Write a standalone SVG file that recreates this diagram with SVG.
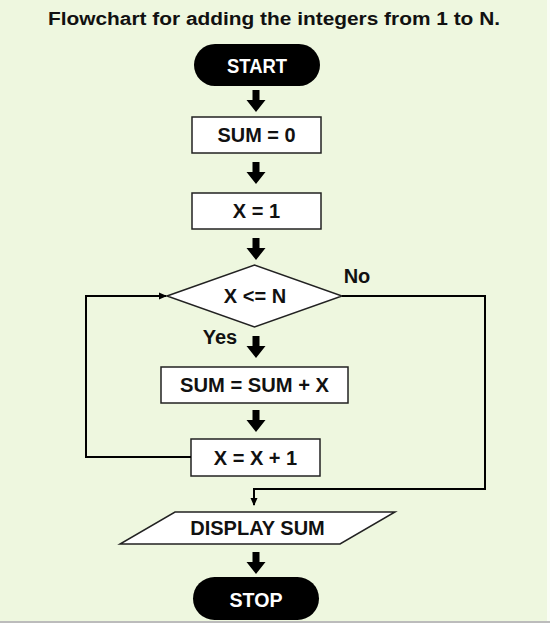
<svg xmlns="http://www.w3.org/2000/svg" xmlns:xlink="http://www.w3.org/1999/xlink" width="550" height="623" viewBox="0 0 550 623">
<style>
text{font-family:"Liberation Sans",Arial,sans-serif;font-weight:bold;text-anchor:middle}
.lbl{font-size:20px;fill:#111}
.term{fill:#000}
.termtxt{font-size:21px;fill:#fff}
.box{fill:#fff;stroke:#222;stroke-width:1.5}
.line{fill:none;stroke:#000;stroke-width:2}
</style>
<defs>
<path id="blk" d="M-3.5,0 H3.5 V10 H9.5 L0,22 L-9.5,10 H-3.5 Z" fill="#000"/>
<marker id="ah" markerWidth="8" markerHeight="8" refX="7" refY="4" orient="auto" markerUnits="userSpaceOnUse">
<path d="M0,0.5 L8,4 L0,7.5 Z" fill="#000"/>
</marker>
</defs>
<rect x="0" y="0" width="550" height="623" fill="#eef7df"/>
<rect x="547" y="0" width="3" height="623" fill="#fafdf6"/>
<rect x="0" y="621" width="550" height="2" fill="#bcbcbc"/>
<text x="274" y="25" font-size="18" fill="#111" textLength="452" lengthAdjust="spacingAndGlyphs">Flowchart for adding the integers from 1 to N.</text>
<g id="start">
<rect class="term" x="194" y="44" width="126" height="42" rx="21"/>
<text class="termtxt" x="257" y="73" textLength="60" lengthAdjust="spacingAndGlyphs">START</text>
</g>
<g id="sum0">
<rect class="box" x="192" y="117" width="129" height="36"/>
<text class="lbl" x="256.5" y="142" textLength="78" lengthAdjust="spacingAndGlyphs">SUM = 0</text>
</g>
<g id="x1">
<rect class="box" x="192" y="193" width="129" height="36"/>
<text class="lbl" x="256.5" y="218">X = 1</text>
</g>
<g id="decision">
<polygon class="box" points="167,296 254.5,265 342,296 254.5,327"/>
<text class="lbl" x="255" y="303">X &lt;= N</text>
</g>
<g id="sumadd">
<rect class="box" x="161" y="367" width="187" height="36"/>
<text class="lbl" x="254.5" y="392" textLength="149" lengthAdjust="spacingAndGlyphs">SUM = SUM + X</text>
</g>
<g id="xinc">
<rect class="box" x="191" y="439" width="129" height="37"/>
<text class="lbl" x="255.5" y="465">X = X + 1</text>
</g>
<g id="display">
<polygon class="box" points="175,512 395,512 340,544 120,544"/>
<text class="lbl" x="257.5" y="535">DISPLAY SUM</text>
</g>
<g id="stop">
<rect class="term" x="193" y="577" width="126" height="43" rx="21.5"/>
<text class="termtxt" x="256" y="607" textLength="53" lengthAdjust="spacingAndGlyphs">STOP</text>
</g>
<g id="connectors">
<use xlink:href="#blk" x="256" y="90"/>
<use xlink:href="#blk" x="256" y="162"/>
<use xlink:href="#blk" x="256" y="238"/>
<use xlink:href="#blk" x="256" y="336"/>
<use xlink:href="#blk" x="256" y="410"/>
<use xlink:href="#blk" x="256" y="552"/>
<polyline class="line" points="342,296 485,296 485,489 254,489 254,505" marker-end="url(#ah)"/>
<polyline class="line" points="191,457 86,457 86,296 166,296" marker-end="url(#ah)"/>
<text class="lbl" x="357" y="283">No</text>
<text class="lbl" x="220" y="344">Yes</text>
</g>
</svg>
